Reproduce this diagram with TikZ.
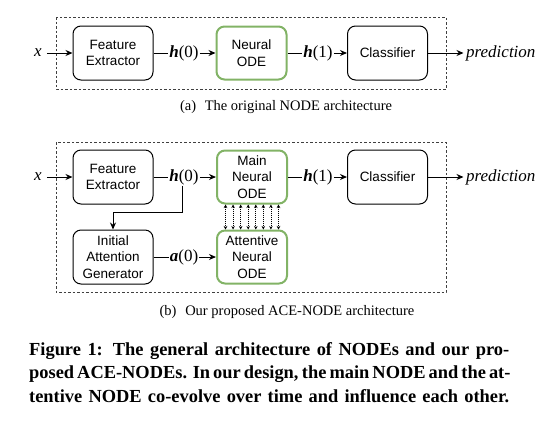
\documentclass[tikz,border=0pt]{standalone}
\usepackage{fontspec}
\setmainfont{Liberation Serif}
\setsansfont{Liberation Sans}
\usetikzlibrary{arrows.meta}
\definecolor{odegreen}{HTML}{82B366}
\begin{document}
\begin{tikzpicture}[x=1pt,y=-1pt,
  blk/.style={draw, rounded corners=8pt, line width=1pt, minimum width=80pt, minimum height=54pt, align=center, font=\sffamily\fontsize{13.5}{16.5}\selectfont, inner sep=0pt},
  ode/.style={blk, draw=odegreen, line width=2pt, minimum width=70pt, minimum height=53pt},
  lbl/.style={font=\fontsize{17}{20}\selectfont, inner sep=1pt},
  frame/.style={draw=black!75, dash pattern=on 2.5pt off 2pt, line width=0.8pt},
  conn/.style={line width=1pt, -{Stealth[length=7pt,width=6pt]}},
  plainln/.style={line width=1pt},
  dots/.style={line width=0.6pt, dash pattern=on 1pt off 1pt, {Stealth[length=3.5pt,width=3.5pt]}-{Stealth[length=3.5pt,width=3.5pt]}},
  subcap/.style={font=\fontsize{14.5}{17}\selectfont, inner sep=0pt}
]
\path[use as bounding box] (0,0) rectangle (556,445);

% ---------- (a) ----------
\draw[frame] (56,17) rectangle (446,89);
\node[blk] (fe1) at (113,53) {Feature\\Extractor};
\node[ode] (ode1) at (251.5,53) {Neural\\ODE};
\node[blk] (cl1) at (387.5,53) {Classifier};
\node[lbl] (x1) at (38,53) {\textit{x}};
\node[lbl] (h01) at (184,53) {\textbf{\textit{h}}(0)};
\node[lbl] (h11) at (318,53) {\textbf{\textit{h}}(1)};
\node[lbl, anchor=west] (p1) at (465,53) {\textit{prediction}};
\draw[conn] ([xshift=4pt]x1.east) -- (fe1);
\draw[plainln] (fe1) -- (h01);
\draw[conn] (h01) -- (ode1);
\draw[plainln] (ode1) -- (h11);
\draw[conn] (h11) -- (cl1);
\draw[conn] (cl1) -- ([xshift=-1.5pt]p1.west);
\node[subcap] (capa) at (286,107) {(a)\hspace{0.6em}The original NODE architecture};

% ---------- (b) ----------
\draw[frame] (56,142) rectangle (446,292);
\node[blk] (fe2) at (113,177) {Feature\\Extractor};
\node[ode] (main) at (252,177) {Main\\Neural\\ODE};
\node[ode] (att) at (252,257) {Attentive\\Neural\\ODE};
\node[blk] (iag) at (113,257) {Initial\\Attention\\Generator};
\node[blk] (cl2) at (387.5,177) {Classifier};
\node[lbl] (x2) at (38,177) {\textit{x}};
\node[lbl] (h02) at (184,177) {\textbf{\textit{h}}(0)};
\node[lbl] (a02) at (184,257) {\textbf{\textit{a}}(0)};
\node[lbl] (h12) at (318,177) {\textbf{\textit{h}}(1)};
\node[lbl, anchor=west] (p2) at (465,177) {\textit{prediction}};
\draw[conn] ([xshift=4pt]x2.east) -- (fe2);
\draw[plainln] (fe2) -- (h02);
\draw[conn] (h02) -- (main);
\draw[plainln] (main) -- (h12);
\draw[conn] (h12) -- (cl2);
\draw[conn] (cl2) -- ([xshift=-1.5pt]p2.west);
\draw[plainln] (iag) -- (a02);
\draw[conn] (a02) -- (att);
\coordinate (b1) at (182,212);
\draw[conn] (h02.south -| b1) -- (b1) -- (iag.north |- b1) -- (iag.north);
\foreach \i in {0,...,7} {
  \draw[dots] ([xshift={-26.5pt+\i*7.57pt}]main.south) -- ([xshift={-26.5pt+\i*7.57pt}]att.north);
}
\node[subcap] (capb) at (287,312) {(b)\hspace{0.6em}Our proposed ACE-NODE architecture};

% ---------- figure caption ----------
\node[anchor=north west, inner sep=0pt, align=left, font=\bfseries\fontsize{18.4}{23.5}\selectfont] (fig) at (29,342)
{\makebox[480pt][s]{Figure 1: The general architecture of NODEs and our pro-}\\
 \makebox[480pt][s]{posed ACE-NODEs. In our design, the main NODE and the at-}\\
 \makebox[480pt][s]{tentive NODE co-evolve over time and influence each other.}};
\end{tikzpicture}
\end{document}
